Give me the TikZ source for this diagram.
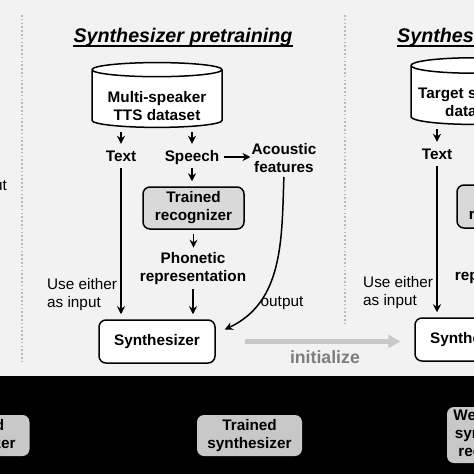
\documentclass[tikz,border=0pt]{standalone}
\usepackage{fontspec}
\setmainfont{Liberation Sans}
\usetikzlibrary{shapes.geometric,arrows.meta}
\definecolor{panelgray}{RGB}{242,242,242}
\definecolor{boxgray}{RGB}{217,217,217}
\definecolor{bandgray}{RGB}{200,200,200}
\definecolor{initgray}{RGB}{200,200,200}
\definecolor{inittext}{RGB}{125,125,125}
\newcommand{\toplift}{\rule{0pt}{24pt}}
\tikzset{
  lbl/.style={font=\fontsize{15.3}{18}\selectfont\bfseries, align=center, inner sep=1pt},
  note/.style={font=\fontsize{15.3}{18}\selectfont, align=left, inner sep=1pt},
  head/.style={font=\fontsize{19.7}{22}\selectfont\bfseries\itshape, inner sep=0pt},
  database/.style={cylinder, shape border rotate=90, draw, line width=1.5pt, fill=white, aspect=0.14, lbl},
  module/.style={draw, line width=1.5pt, rounded corners=7pt, lbl},
  result/.style={fill=bandgray, rounded corners=7pt, lbl},
  flow/.style={-{Stealth[length=8pt,width=8pt]}, line width=1.5pt},
  divider/.style={gray!55, line width=1.6pt, dash pattern=on 1.6pt off 2.2pt},
}
\begin{document}
\begin{tikzpicture}[x=1pt,y=-1pt]
  \useasboundingbox (0,0) rectangle (474,474);
  \clip (0,0) rectangle (474,474);
  \fill[panelgray] (0,0) rectangle (474,376);
  \fill[black] (0,376) rectangle (474,474);
  \draw[divider] (22,15) -- (22,361);
  \draw[divider] (345,15) -- (345,326);

  % left panel (cut off)
  \node[note, anchor=base east] (inL) at (8,190) {input};

  % synthesizer pretraining
  \node[head, anchor=base] (headA) at (183,42) {Synthesizer pretraining};
  \draw[line width=1.6pt] ([yshift=-4pt]headA.base west) -- ([yshift=-4pt]headA.base east);
  \node[database, minimum width=130pt, minimum height=59pt] (dbA) at (157,99.5) {\toplift Multi-speaker\\TTS dataset};
  \node[lbl, text height=11pt, text depth=3pt] (txtA) at (121,157) {Text};
  \node[lbl, text height=11pt, text depth=3pt] (speechA) at (192,157) {Speech};
  \node[lbl] (acousticA) at (284,158) {Acoustic\\features};
  \node[module, fill=boxgray, minimum width=101pt, minimum height=42pt] (recA) at (193.5,208) {Trained\\recognizer};
  \node[lbl] (phonA) at (193,269) {Phonetic\\representation};
  \node[module, fill=white, minimum width=116pt, minimum height=43pt] (synA) at (157,341.5) {Synthesizer};
  \node[note, anchor=west] (useA) at (46,295) {Use either\\as input};
  \node[note] (outA) at (282,303) {output};

  \draw[flow, shorten <=4pt, shorten >=5pt] (txtA |- dbA.bottom) -- (txtA.north);
  \draw[flow, shorten <=4pt, shorten >=5pt] (speechA |- dbA.bottom) -- (speechA.north);
  \draw[flow, shorten <=4pt] (speechA.east) -- (speechA.east -| acousticA.west);
  \draw[flow, shorten <=3pt, shorten >=5pt] (txtA.south) -- (txtA.south |- synA.north);
  \draw[flow, shorten <=3pt, shorten >=5pt] (speechA.south) -- (speechA.south |- recA.north);
  \draw[flow, shorten <=4pt, shorten >=4pt] (recA.south) -- (recA.south |- phonA.north);
  \draw[flow, shorten <=3pt, shorten >=5pt] (phonA.south) -- (phonA.south |- synA.north);
  \draw[flow, shorten <=3pt] (acousticA.south) to[out=-92, in=25] ([xshift=9pt, yshift=12pt]synA.east);

  % synthesizer fine-tuning
  \node[head, anchor=base west] (headB) at (397,42) {Synthesizer fine-tuning};
  \draw[line width=1.6pt] ([yshift=-4pt]headB.base west) -- ([yshift=-4pt]headB.base east);
  \node[database, minimum width=122pt, minimum height=54pt] (dbB) at (472,96) {\toplift Target speaker\\dataset};
  \node[lbl, text height=11pt, text depth=3pt] (txtB) at (437,155) {Text};
  \node[module, fill=boxgray, minimum width=101pt, minimum height=43pt] (recB) at (507.5,206.5) {Trained\\recognizer};
  \node[lbl] (phonB) at (508,268) {Phonetic\\representation};
  \node[module, fill=white, minimum width=116pt, minimum height=43pt] (synB) at (473,339.5) {Synthesizer};
  \node[note, anchor=west] (useB) at (362,293) {Use either\\as input};

  \draw[flow, shorten <=4pt, shorten >=5pt] (txtB |- dbB.bottom) -- (txtB.north);
  \draw[flow, shorten <=3pt, shorten >=5pt] (txtB.south) -- (txtB.south |- synB.north);

  \draw[-{Triangle[length=12pt, width=13pt]}, initgray, line width=4.5pt, shorten <=29pt, shorten >=14pt]
    (synA.east) -- (synA.east -| synB.west)
    node[pos=0.55, anchor=north, yshift=-6pt, lbl, font=\fontsize{17.7}{20}\selectfont\bfseries, text=inittext] (initA) {initialize};

  % results
  \node[result, minimum width=105pt, minimum height=41pt] (outL) at (-23,435.5) {Trained\\recognizer};
  \node[result, minimum width=105pt, minimum height=41pt] (outM) at (249.5,435.5) {Trained\\synthesizer};
  \node[result, minimum width=100pt, minimum height=56pt] (outR) at (497,435) {Well-trained\\synthesizer\\recognizer};
\end{tikzpicture}
\end{document}
